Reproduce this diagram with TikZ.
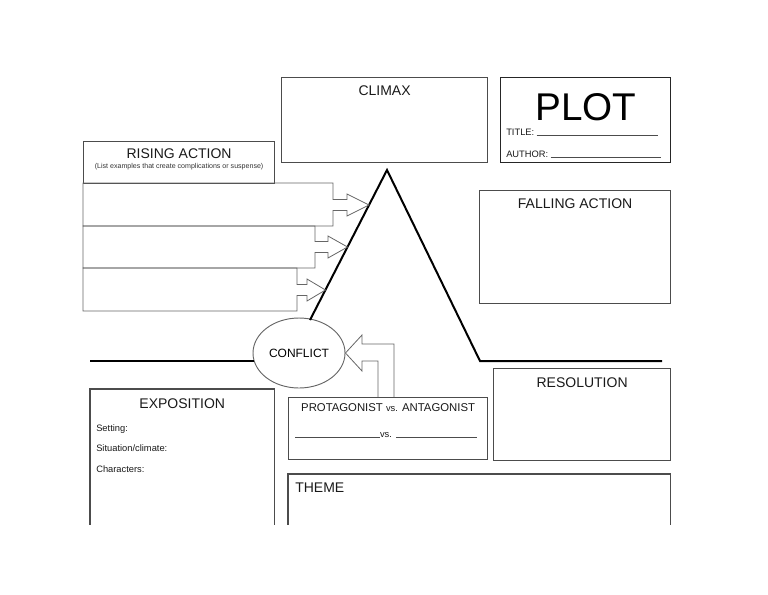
\documentclass[tikz,border=0pt]{standalone}
\usepackage{fontspec}
\setmainfont{Liberation Sans}
\usetikzlibrary{shapes.geometric, positioning}

\begin{document}
\begin{tikzpicture}[
    x=0.75pt, y=-0.75pt,
    box/.style={rectangle, draw=black!70, line width=0.9pt, anchor=north west, inner sep=0pt},
    openbox/.style={rectangle, anchor=north west, inner sep=0pt},
    head/.style={inner sep=0pt, font=\fontsize{10.5}{12}\selectfont, text=black!90},
    note/.style={inner sep=0pt, font=\fontsize{7}{8}\selectfont, text=black!90},
    strip/.style={draw=black!60, line width=0.6pt},
    mainline/.style={draw=black, line width=1.5pt},
    uline/.style={draw=black!70, line width=0.5pt},
]
    \useasboundingbox (0,0) rectangle (768,594);

    \node[box, minimum width=154.5pt, minimum height=63.75pt] (climax) at (281,77) {};
    \node[head, below=6.5pt of climax.north] (climaxlbl) {CLIMAX};

    \node[box, draw=black!85, minimum width=127.5pt, minimum height=63.75pt] (plot) at (500,77) {};
    \node[inner sep=0pt, font=\fontsize{29}{30}\selectfont] (plotlbl) at (586,107) {PLOT};
    \node[note, anchor=base west] (titlelbl) at (506,135) {TITLE:};
    \node[note, anchor=base west] (authorlbl) at (506,157) {AUTHOR:};
    \draw[uline] ([xshift=1.5pt]titlelbl.base east) -- (658,135);
    \draw[uline] ([xshift=1.5pt]authorlbl.base east) -- (661,157);

    \node[box, minimum width=143.25pt, minimum height=31.5pt] (rising) at (83,141) {};
    \node[head, below=5.5pt of rising.north] (risinglbl) {RISING ACTION};
    \node[inner sep=0pt, font=\fontsize{5.3}{6}\selectfont, text=black!80, below=3pt of risinglbl] (risingsub) {(List examples that create complications or suspense)};

    \node[box, minimum width=143.25pt, minimum height=84.75pt] (falling) at (479,190) {};
    \node[head, below=6pt of falling.north] (fallinglbl) {FALLING ACTION};

    \node[box, minimum width=132.75pt, minimum height=69pt] (resolution) at (493,368) {};
    \node[head, below=6.75pt of resolution.north] (resolutionlbl) {RESOLUTION};

    \node[openbox, minimum width=138pt, minimum height=101.25pt] (exposition) at (90,389) {};
    \draw[draw=black!70, line width=0.9pt] (exposition.south west) |- (exposition.north east) -- (exposition.south east);
    \node[head, below=6.75pt of exposition.north] (expositionlbl) {EXPOSITION};
    \node[note, anchor=base west] (setting) at (96,431) {Setting:};
    \node[note, anchor=base west] (situation) at (96,451) {Situation/climate:};
    \node[note, anchor=base west] (characters) at (96,472) {Characters:};

    \node[box, minimum width=149.25pt, minimum height=46.5pt] (versus) at (288,397) {};
    \node[inner sep=0pt, font=\fontsize{8.5}{10}\selectfont, text=black!90, below=4.5pt of versus.north] (versuslbl) {PROTAGONIST {\fontsize{7}{8}\selectfont vs.} ANTAGONIST};
    \node[note, anchor=base] (vs) at (386,437) {vs.};
    \draw[uline] (295,437) -- (vs.base west);
    \draw[uline] ([xshift=3pt]vs.base east) -- (477,437);

    \node[openbox, minimum width=286.5pt, minimum height=37.5pt] (theme) at (288,474) {};
    \draw[draw=black!70, line width=0.9pt] (theme.south west) |- (theme.north east) -- (theme.south east);
    \node[head, anchor=north west] (themelbl) at ([xshift=5.25pt, yshift=-6.75pt]theme.north west) {THEME};

    \node[ellipse, draw=black!60, line width=0.7pt, minimum width=69pt, minimum height=52.5pt, inner sep=0pt, font=\fontsize{9}{10}\selectfont] (conflict) at (299,353) {CONFLICT};

    \coordinate (apex) at (387,170);
    \coordinate (lbase) at (310,320);
    \coordinate (rbase) at (480,361);
    \coordinate (rend) at (662,361);
    \coordinate (lstart) at (90,361);
    \coordinate (lend) at (254,361);
    \draw[mainline] (lbase) -- (apex) -- (rbase) -- (rend);
    \draw[mainline] (lstart) -- (lend);

    \foreach \t/\b/\r/\h/\tx/\ty in {183/226/333/347/369/205, 226/268/315/328/347.5/247, 268/311/297/307/325.5/290}
        \draw[strip] (83,\t) -- (\r,\t) -- (\r,{\ty-5.5}) -- (\h,{\ty-5.5}) -- (\h,{\ty-11}) -- (\tx,\ty)
            -- (\h,{\ty+11}) -- (\h,{\ty+5.5}) -- (\r,{\ty+5.5}) -- (\r,\b) -- (83,\b) -- cycle;

    \draw[strip] (378,397) -- (378,361) -- (362,361) -- (362,371) -- (conflict.east) -- (362,335) -- (362,344) -- (394,344) -- (394,397);
\end{tikzpicture}
\end{document}
